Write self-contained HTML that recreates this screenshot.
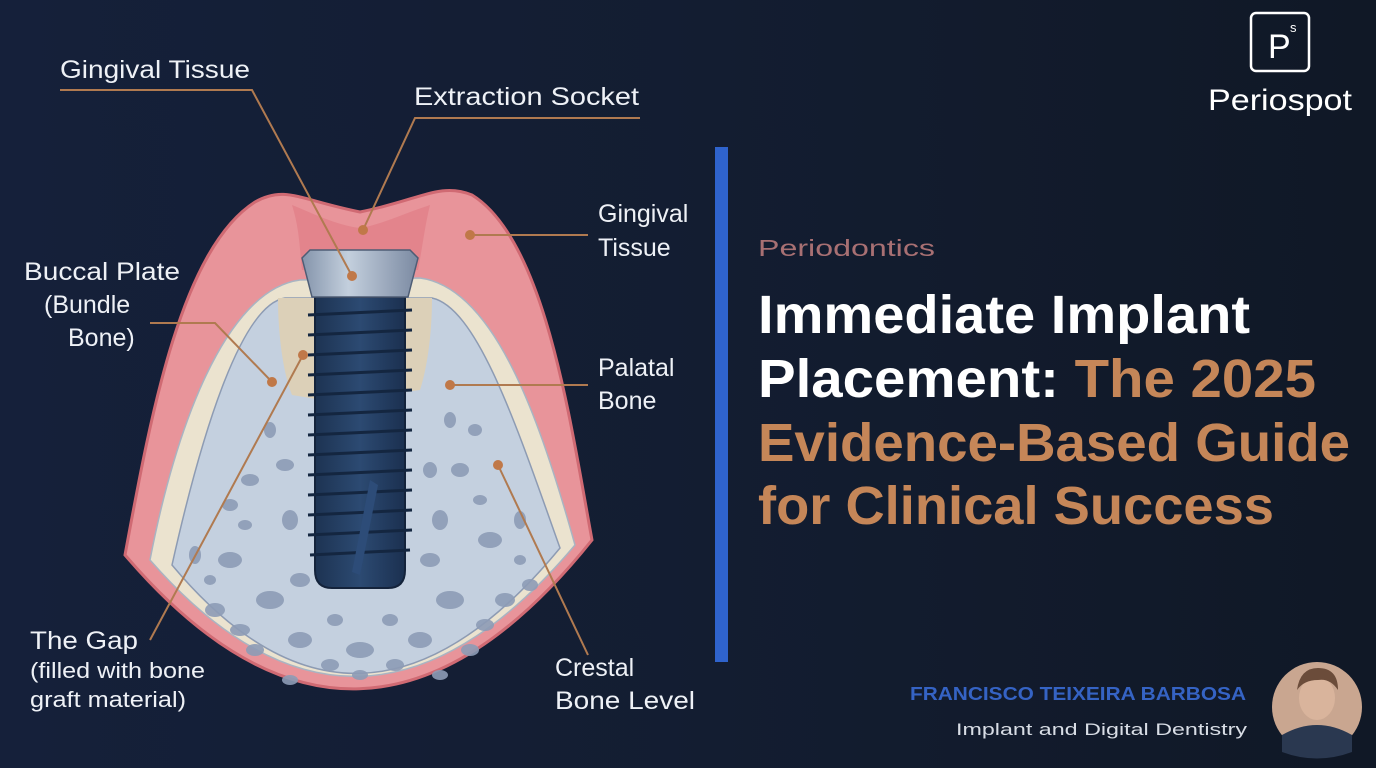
<!DOCTYPE html>
<html><head><meta charset="utf-8"><style>
html,body{margin:0;padding:0;background:#111a28;}
svg{display:block}
text{font-family:"Liberation Sans",sans-serif}
</style></head><body>
<svg width="1376" height="768" viewBox="0 0 1376 768" xmlns="http://www.w3.org/2000/svg">
<defs>
<linearGradient id="bg" x1="0" x2="1" y1="0" y2="0"><stop offset="0" stop-color="#15203a"/><stop offset="0.52" stop-color="#131d31"/><stop offset="1" stop-color="#101826"/></linearGradient>
<linearGradient id="imp" x1="0" x2="1"><stop offset="0" stop-color="#1d3352"/><stop offset="0.5" stop-color="#2c4a72"/><stop offset="1" stop-color="#1b3050"/></linearGradient>
<linearGradient id="col" x1="0" x2="1"><stop offset="0" stop-color="#8494ab"/><stop offset="0.4" stop-color="#c3cfdd"/><stop offset="1" stop-color="#7b8aa2"/></linearGradient>
</defs>
<rect width="1376" height="768" fill="url(#bg)"/>
<path d="M125,555 C150,420 180,250 255,202 C285,185 300,200 360,212 C420,200 440,182 472,195 C545,240 570,420 592,540 Q360,830 125,555 Z" fill="#e8949a" stroke="#d06a73" stroke-width="3"/>
<path d="M292,205 C300,230 300,255 302,270 L418,270 C422,250 425,225 430,205 C400,215 380,225 360,228 C335,225 310,212 292,205Z" fill="#e07a83" opacity="0.6"/>
<path d="M150,560 C175,430 225,290 300,280 L420,278 C495,288 540,420 575,545 Q360,800 150,560 Z" fill="#ebe3cf" stroke="#a9b4c2" stroke-width="1.5"/>
<path d="M172,565 C200,440 240,305 285,298 L432,298 C478,308 518,430 560,548 Q360,790 172,565 Z" fill="#c4d0df" stroke="#8d9bb3" stroke-width="1.5"/>
<path d="M278,298 L322,298 L322,400 L292,395 C282,370 278,330 278,298Z" fill="#dcd0b8"/>
<path d="M405,298 L432,298 C432,330 428,365 420,390 L405,392Z" fill="#dcd0b8"/>
<g fill="#8d9cb6" opacity="0.9">
<ellipse cx="250" cy="480" rx="9" ry="6"/><ellipse cx="230" cy="560" rx="12" ry="8"/><ellipse cx="270" cy="600" rx="14" ry="9"/><ellipse cx="215" cy="610" rx="10" ry="7"/><ellipse cx="300" cy="640" rx="12" ry="8"/><ellipse cx="255" cy="650" rx="9" ry="6"/><ellipse cx="290" cy="520" rx="8" ry="10"/><ellipse cx="270" cy="430" rx="6" ry="8"/><ellipse cx="245" cy="525" rx="7" ry="5"/><ellipse cx="210" cy="580" rx="6" ry="5"/>
<ellipse cx="460" cy="470" rx="9" ry="7"/><ellipse cx="490" cy="540" rx="12" ry="8"/><ellipse cx="450" cy="600" rx="14" ry="9"/><ellipse cx="505" cy="600" rx="10" ry="7"/><ellipse cx="420" cy="640" rx="12" ry="8"/><ellipse cx="470" cy="650" rx="9" ry="6"/><ellipse cx="440" cy="520" rx="8" ry="10"/><ellipse cx="450" cy="420" rx="6" ry="8"/><ellipse cx="480" cy="500" rx="7" ry="5"/><ellipse cx="520" cy="560" rx="6" ry="5"/><ellipse cx="360" cy="650" rx="14" ry="8"/><ellipse cx="335" cy="620" rx="8" ry="6"/><ellipse cx="390" cy="620" rx="8" ry="6"/><ellipse cx="360" cy="675" rx="8" ry="5"/>
<ellipse cx="230" cy="505" rx="8" ry="6"/><ellipse cx="285" cy="465" rx="9" ry="6"/><ellipse cx="300" cy="580" rx="10" ry="7"/><ellipse cx="195" cy="555" rx="6" ry="9"/><ellipse cx="240" cy="630" rx="10" ry="6"/><ellipse cx="330" cy="665" rx="9" ry="6"/><ellipse cx="290" cy="680" rx="8" ry="5"/><ellipse cx="395" cy="665" rx="9" ry="6"/><ellipse cx="430" cy="560" rx="10" ry="7"/><ellipse cx="475" cy="430" rx="7" ry="6"/><ellipse cx="520" cy="520" rx="6" ry="9"/><ellipse cx="485" cy="625" rx="9" ry="6"/><ellipse cx="430" cy="470" rx="7" ry="8"/><ellipse cx="530" cy="585" rx="8" ry="6"/><ellipse cx="440" cy="675" rx="8" ry="5"/>
</g>
<path d="M315,297 L405,297 L405,570 Q405,588 388,588 L332,588 Q315,588 315,570 Z" fill="url(#imp)" stroke="#14233b" stroke-width="2"/>
<g stroke="#142640" stroke-width="3">
<line x1="308" y1="315" x2="412" y2="310"/><line x1="308" y1="335" x2="412" y2="330"/><line x1="308" y1="355" x2="412" y2="350"/><line x1="308" y1="375" x2="412" y2="370"/><line x1="308" y1="395" x2="412" y2="390"/><line x1="308" y1="415" x2="412" y2="410"/><line x1="308" y1="435" x2="412" y2="430"/><line x1="308" y1="455" x2="412" y2="450"/><line x1="308" y1="475" x2="412" y2="470"/><line x1="308" y1="495" x2="412" y2="490"/><line x1="308" y1="515" x2="412" y2="510"/><line x1="308" y1="535" x2="412" y2="530"/><line x1="310" y1="555" x2="410" y2="550"/>
</g>
<path d="M370,480 L378,485 L360,575 L352,572Z" fill="#2d4c78"/>
<path d="M302,258 L310,250 L410,250 L418,258 L408,297 L312,297 Z" fill="url(#col)" stroke="#4e5d75" stroke-width="1.5"/>
<g stroke="#b07a50" stroke-width="2" fill="none">
<path d="M60,90 L252,90 L352,276"/>
<path d="M640,118 L415,118 L363,230"/>
<path d="M588,235 L470,235"/>
<path d="M150,323 L215,323 L272,382"/>
<path d="M588,385 L450,385"/>
<path d="M150,640 L303,355"/>
<path d="M588,655 L498,465"/>
</g>
<g fill="#c07848"><circle cx="352" cy="276" r="5"/><circle cx="363" cy="230" r="5"/><circle cx="470" cy="235" r="5"/><circle cx="272" cy="382" r="5"/><circle cx="450" cy="385" r="5"/><circle cx="303" cy="355" r="5"/><circle cx="498" cy="465" r="5"/></g>
<g fill="#eef1f6" font-size="25">
<text x="60" y="78" textLength="190" lengthAdjust="spacingAndGlyphs">Gingival Tissue</text>
<text x="414" y="105" textLength="225" lengthAdjust="spacingAndGlyphs">Extraction Socket</text>
<text x="598" y="222">Gingival</text><text x="598" y="256">Tissue</text>
<text x="24" y="280" textLength="156" lengthAdjust="spacingAndGlyphs">Buccal Plate</text><text x="44" y="313">(Bundle</text><text x="68" y="346">Bone)</text>
<text x="598" y="376">Palatal</text><text x="598" y="409">Bone</text>
<text x="30" y="649" textLength="108" lengthAdjust="spacingAndGlyphs">The  Gap</text>
<text x="555" y="676">Crestal</text><text x="555" y="709" textLength="140" lengthAdjust="spacingAndGlyphs">Bone  Level</text>
</g>
<g fill="#eef1f6" font-size="22"><text x="30" y="678" textLength="175" lengthAdjust="spacingAndGlyphs">(filled with bone</text><text x="30" y="707" textLength="156" lengthAdjust="spacingAndGlyphs">graft material)</text></g>
<rect x="715" y="147" width="13" height="515" fill="#2f63cc"/>
<text x="758" y="256" font-size="23" fill="#a87073" textLength="177" lengthAdjust="spacingAndGlyphs">Periodontics</text>
<g font-size="54" font-weight="bold">
<text x="758" y="333" fill="#ffffff" textLength="492" lengthAdjust="spacingAndGlyphs">Immediate Implant</text>
<text x="758" y="397" textLength="558" lengthAdjust="spacingAndGlyphs"><tspan fill="#ffffff">Placement: </tspan><tspan fill="#c58658">The 2025</tspan></text>
<text x="758" y="461" fill="#c58658" textLength="592" lengthAdjust="spacingAndGlyphs">Evidence-Based Guide</text>
<text x="758" y="524" fill="#c58658" textLength="516" lengthAdjust="spacingAndGlyphs">for Clinical Success</text>
</g>
<rect x="1251" y="13" width="58" height="58" rx="5" fill="none" stroke="#fff" stroke-width="2.5"/>
<text x="1268" y="58" font-size="34" fill="#fff">P</text>
<text x="1290" y="32" font-size="13" fill="#fff">s</text>
<text x="1208" y="110" font-size="30" fill="#fff" textLength="144" lengthAdjust="spacingAndGlyphs">Periospot</text>
<text x="910" y="700" font-size="18" font-weight="bold" fill="#3563c4" textLength="336" lengthAdjust="spacingAndGlyphs">FRANCISCO TEIXEIRA BARBOSA</text>
<text x="956" y="735" font-size="17" fill="#d8dde5" textLength="291" lengthAdjust="spacingAndGlyphs">Implant and Digital Dentistry</text>
<circle cx="1317" cy="707" r="45" fill="#c9a690"/>
<path d="M1282,735 Q1317,715 1352,735 L1352,752 Q1317,765 1282,752Z" fill="#2a3850"/>
<ellipse cx="1317" cy="698" rx="18" ry="22" fill="#d9b49c"/>
<path d="M1297,690 Q1300,668 1318,668 Q1338,668 1338,690 Q1330,678 1318,680 Q1304,680 1297,690Z" fill="#6b4c3a"/>
</svg>
</body></html>
